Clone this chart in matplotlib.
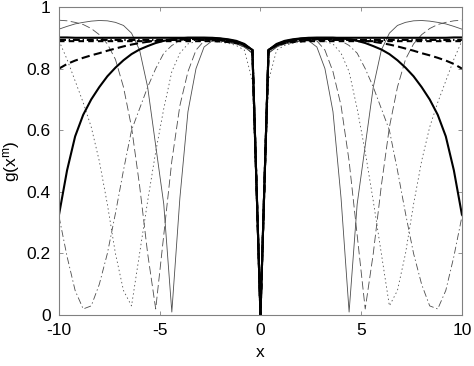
import numpy as np
import matplotlib
matplotlib.use("Agg")
import matplotlib.pyplot as plt

plt.rcParams["font.family"] = ["Liberation Sans", "DejaVu Sans"]
plt.rcParams["mathtext.default"] = "regular"
plt.rcParams["lines.scale_dashes"] = False

# sample positions for x >= 0 (curves are mirrored to x < 0)
x_half = np.linspace(0, 10, 26)

# values at x = 0, 0.4, 0.8, ..., 10
g_thin_solid = [0, 0.85, 0.87, 0.88, 0.885, 0.89, 0.89, 0.87, 0.80, 0.66, 0.38, 0.01,
                0.36, 0.55, 0.74, 0.86, 0.915, 0.94, 0.95, 0.955, 0.956, 0.954, 0.95,
                0.945, 0.937, 0.928]
g_thin_dash = [0, 0.85, 0.87, 0.88, 0.885, 0.89, 0.893, 0.89, 0.86, 0.79, 0.68, 0.50,
               0.26, 0.02, 0.20, 0.42, 0.61, 0.74, 0.83, 0.88, 0.91, 0.93, 0.943,
               0.95, 0.955, 0.957]
g_thin_dot = [0, 0.76, 0.86, 0.875, 0.882, 0.886, 0.888, 0.889, 0.888, 0.88, 0.85, 0.79,
              0.67, 0.53, 0.37, 0.20, 0.03, 0.08, 0.20, 0.36, 0.50, 0.61, 0.69,
              0.76, 0.83, 0.89]
g_thin_dashdot = [0, 0.85, 0.872, 0.883, 0.888, 0.892, 0.895, 0.896, 0.896, 0.895, 0.89,
                  0.875, 0.85, 0.80, 0.74, 0.67, 0.60, 0.47, 0.33, 0.20, 0.10, 0.03,
                  0.02, 0.08, 0.19, 0.32]
g_thick_solid = [0, 0.86, 0.878, 0.888, 0.893, 0.897, 0.899, 0.9, 0.9, 0.9, 0.898, 0.895,
                 0.89, 0.883, 0.873, 0.862, 0.847, 0.827, 0.803, 0.775, 0.74, 0.70,
                 0.65, 0.58, 0.47, 0.326]
g_thick_dash = [0, 0.86, 0.876, 0.885, 0.89, 0.893, 0.895, 0.896, 0.896, 0.896, 0.895,
                0.894, 0.892, 0.89, 0.887, 0.883, 0.878, 0.872, 0.865, 0.858, 0.85,
                0.843, 0.835, 0.826, 0.815, 0.80]
g_flat_solid = [0, 0.86, 0.88, 0.89, 0.895, 0.898, 0.9, 0.9, 0.9, 0.9, 0.9, 0.9, 0.9,
                0.9, 0.9, 0.9, 0.9, 0.9, 0.9, 0.9, 0.9, 0.9, 0.9, 0.9, 0.901, 0.901]
g_flat_dashdot = [0, 0.86, 0.877, 0.886, 0.89, 0.892, 0.893, 0.893, 0.893, 0.893, 0.893,
                  0.893, 0.893, 0.893, 0.893, 0.893, 0.893, 0.893, 0.893, 0.893, 0.893,
                  0.893, 0.893, 0.893, 0.893, 0.893]
g_flat_dash = [0, 0.86, 0.875, 0.883, 0.886, 0.888, 0.889, 0.889, 0.889, 0.889, 0.889,
               0.889, 0.889, 0.889, 0.889, 0.889, 0.889, 0.889, 0.889, 0.889, 0.889,
               0.889, 0.889, 0.889, 0.889, 0.889]

x_ticks = [-10, -5, 0, 5, 10]
y_ticks = [0, 0.2, 0.4, 0.6, 0.8, 1]


def mirror(vals):
    v = np.asarray(vals, dtype=float)
    return np.concatenate([v[::-1], v[1:]])


x_full = np.concatenate([-x_half[::-1], x_half[1:]])

fig = plt.figure(figsize=(4.74, 3.66), dpi=100)
ax = fig.add_axes([0.1245, 0.139, 0.850, 0.842])

thin = dict(lw=0.6, color="0.3")
thick = dict(lw=1.5, color="black")
ax.plot(x_full, mirror(g_thin_solid), ls="-", **thin)
ax.plot(x_full, mirror(g_thin_dash), ls=(0, (6, 2.5)), **thin)
ax.plot(x_full, mirror(g_thin_dot), ls=(0, (1, 2)), **thin)
ax.plot(x_full, mirror(g_thin_dashdot), ls=(0, (5, 2, 1, 2)), **thin)
ax.plot(x_full, mirror(g_flat_dashdot), ls=(0, (5, 2, 1, 2)), **thick)
ax.plot(x_full, mirror(g_flat_dash), ls=(0, (4, 3)), **thick)
ax.plot(x_full, mirror(g_thick_dash), ls=(0, (6, 3)), **thick)
ax.plot(x_full, mirror(g_flat_solid), ls="-", **thick)
ax.plot(x_full, mirror(g_thick_solid), ls="-", **thick)

ax.set_xlim(-10, 10)
ax.set_ylim(0, 1)
ax.set_xticks(x_ticks)
ax.set_xticklabels([str(t) for t in x_ticks])
ax.set_yticks(y_ticks)
ax.set_yticklabels(["0", "0.2", "0.4", "0.6", "0.8", "1"])
ax.tick_params(direction="in", length=3, width=0.6, color="0.5",
               top=True, right=True, labelsize=12.5, pad=6)
for s in ax.spines.values():
    s.set_color("0.5")
    s.set_linewidth(0.8)

ax.set_xlabel("x", fontsize=12.5, labelpad=5)
ax.set_ylabel("g(x$^{m}$)", fontsize=12.5, labelpad=3)

fig.savefig("out.png", dpi=100)
